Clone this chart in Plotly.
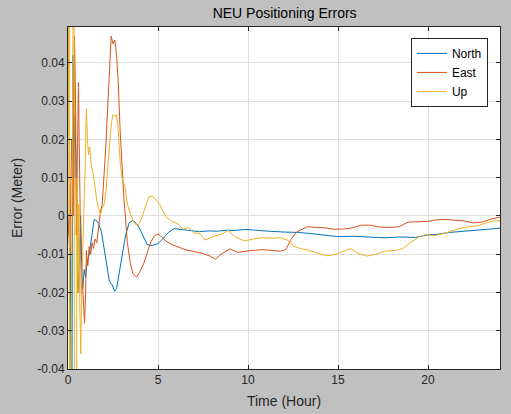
import plotly.graph_objects as go

# NEU positioning errors (time in hours, error in metres)
north_t = [0.0, 0.08, 0.14, 0.17, 0.22, 0.27, 0.32, 0.38, 0.44, 0.5, 0.56, 0.62, 0.7, 0.76, 0.82,
           0.9, 0.98, 1.06, 1.14, 1.24, 1.34, 1.45, 1.55, 1.7, 1.85, 2.0, 2.15, 2.3, 2.45, 2.6,
           2.7, 2.85, 3.0, 3.2, 3.4, 3.6, 3.8, 4.0, 4.2, 4.4, 4.7, 5.0, 5.3, 5.6, 5.9, 6.3, 6.8,
           7.3, 7.8, 8.3, 8.8, 9.3, 9.8, 10.5, 11.2, 12.0, 12.8, 13.5, 14.2, 15.0, 15.8, 16.6,
           17.6, 18.5, 19.3, 19.9, 20.5, 21.2, 22.0, 22.8, 23.5, 24.0]
north_v = [-0.005, 0.0, -0.013, -0.045, -0.045, 0.042, 0.01, 0.026, 0.016, -0.01, -0.02, -0.015,
           0.0, -0.012, -0.019, -0.014, -0.016, -0.012, -0.011, -0.008, -0.004, -0.001, -0.001,
           -0.002, -0.004, -0.008, -0.013, -0.017, -0.018, -0.0197, -0.019, -0.015, -0.010,
           -0.005, -0.0018, -0.0012, -0.002, -0.0035, -0.0055, -0.0075, -0.0077, -0.0072,
           -0.0058, -0.0042, -0.0033, -0.0035, -0.0038, -0.0041, -0.0039, -0.0040, -0.0037,
           -0.0038, -0.0035, -0.0038, -0.0040, -0.0042, -0.0043, -0.0046, -0.0050, -0.0054,
           -0.0053, -0.0055, -0.0057, -0.0055, -0.0056, -0.0050, -0.0048, -0.0043, -0.0040,
           -0.0036, -0.0033, -0.0032]

east_t = [0.0, 0.1, 0.2, 0.3, 0.36, 0.42, 0.46, 0.52, 0.58, 0.62, 0.68, 0.74, 0.8, 0.86, 0.92,
          0.98, 1.02, 1.1, 1.18, 1.26, 1.34, 1.42, 1.5, 1.6, 1.7, 1.8, 1.9, 2.0, 2.1, 2.2, 2.3,
          2.4, 2.5, 2.6, 2.7, 2.8, 2.9, 3.0, 3.1, 3.2, 3.3, 3.45, 3.6, 3.8, 4.0, 4.2, 4.4, 4.6,
          4.8, 5.0, 5.2, 5.5, 5.8, 6.1, 6.5, 7.0, 7.5, 7.9, 8.2, 8.5, 9.0, 9.4, 9.8, 10.3, 10.8,
          11.3, 11.8, 12.1, 12.4, 12.7, 13.0, 13.3, 13.8, 14.3, 14.8, 15.3, 15.8, 16.3, 16.8,
          17.3, 17.9, 18.4, 18.9, 19.4, 20.0, 20.5, 21.0, 21.5, 22.0, 22.5, 23.0, 23.5, 24.0]
east_v = [0.0, -0.01, 0.02, 0.0, 0.047, 0.03, -0.005, 0.01, 0.035, 0.02, -0.01, -0.02, -0.017,
          -0.024, -0.028, -0.02, -0.009, -0.013, -0.008, -0.010, -0.007, -0.0085, -0.006, -0.007,
          -0.003, 0.001, 0.003, 0.01, 0.018, 0.028, 0.038, 0.047, 0.045, 0.046, 0.042, 0.034,
          0.022, 0.012, 0.005, -0.001, -0.007, -0.012, -0.015, -0.016, -0.0145, -0.0125, -0.0095,
          -0.0068, -0.0052, -0.0047, -0.0055, -0.0068, -0.0075, -0.0080, -0.0088, -0.0093,
          -0.0098, -0.0105, -0.0113, -0.0100, -0.0086, -0.0095, -0.0092, -0.0090, -0.0088,
          -0.0090, -0.0092, -0.0088, -0.0060, -0.0042, -0.0035, -0.0028, -0.0030, -0.0031,
          -0.0035, -0.0034, -0.0031, -0.0024, -0.0024, -0.0029, -0.0030, -0.0028, -0.0016,
          -0.0015, -0.0014, -0.0010, -0.0009, -0.0011, -0.0013, -0.0018, -0.0016, -0.0008,
          -0.0003]

up_t = [0.0, 0.07, 0.09, 0.2, 0.33, 0.36, 0.45, 0.5, 0.55, 0.6, 0.66, 0.71, 0.76, 0.82, 0.88,
        0.95, 1.02, 1.08, 1.14, 1.2, 1.3, 1.4, 1.5, 1.6, 1.7, 1.8, 1.9, 2.0, 2.1, 2.2, 2.3, 2.4,
        2.5, 2.6, 2.7, 2.8, 2.9, 3.0, 3.15, 3.3, 3.5, 3.7, 3.9, 4.1, 4.3, 4.5, 4.7, 4.9, 5.1,
        5.3, 5.5, 5.8, 6.1, 6.4, 6.7, 7.0, 7.3, 7.6, 8.0, 8.5, 8.9, 9.3, 9.8, 10.3, 10.8, 11.3,
        11.8, 12.2, 12.5, 12.9, 13.4, 13.9, 14.4, 14.9, 15.4, 15.7, 16.1, 16.6, 17.1, 17.6,
        18.2, 18.6, 19.0, 19.5, 19.9, 20.3, 20.8, 21.3, 21.8, 22.3, 22.8, 23.3, 23.7, 24.0]
up_v = [0.0, 0.1, -0.1, -0.02, 0.1, -0.1, -0.1, 0.01, -0.02, 0.003, -0.025, -0.036, -0.02,
        -0.004, 0.001, 0.012, 0.028, 0.02, 0.016, 0.018, 0.013, 0.011, 0.007, 0.004, 0.002,
        0.0005, 0.002, 0.003, 0.006, 0.012, 0.018, 0.024, 0.0265, 0.026, 0.0265, 0.022, 0.014,
        0.010, 0.008, 0.003, 0.0, -0.002, -0.0025, -0.0005, 0.0025, 0.005, 0.0052, 0.004, 0.003,
        0.001, -0.0005, -0.0015, -0.002, -0.0035, -0.0030, -0.0045, -0.0045, -0.0063, -0.0055,
        -0.0048, -0.0038, -0.0055, -0.0065, -0.0060, -0.0057, -0.0058, -0.0057, -0.0063,
        -0.0078, -0.0085, -0.0090, -0.0098, -0.0104, -0.0100, -0.0090, -0.0085, -0.0097,
        -0.0105, -0.0100, -0.0092, -0.0090, -0.0085, -0.0070, -0.0055, -0.0048, -0.0052,
        -0.0047, -0.0040, -0.0032, -0.0028, -0.0025, -0.0017, -0.0013, -0.0013]

x_ticks = [0, 5, 10, 15, 20]
y_ticks = [-0.04, -0.03, -0.02, -0.01, 0, 0.01, 0.02, 0.03, 0.04]
y_labels = ["-0.04", "-0.03", "-0.02", "-0.01", "0", "0.01", "0.02", "0.03", "0.04"]

fig = go.Figure()
fig.add_trace(go.Scatter(x=north_t, y=north_v, mode="lines", name="North",
                         line=dict(color="#0072BD", width=1)))
fig.add_trace(go.Scatter(x=east_t, y=east_v, mode="lines", name="East",
                         line=dict(color="#D95319", width=1)))
fig.add_trace(go.Scatter(x=up_t, y=up_v, mode="lines", name="Up",
                         line=dict(color="#EDB120", width=1)))

axis_style = dict(showline=True, linecolor="#262626", linewidth=1, mirror="ticks",
                  ticks="inside", ticklen=4, tickcolor="#262626",
                  showgrid=True, gridcolor="#DFDFDF", gridwidth=1, zeroline=False,
                  automargin=False, tickfont=dict(size=12, color="#262626"))

fig.update_xaxes(range=[0, 24], tickvals=x_ticks,
                 title=dict(text="Time (Hour)", font=dict(size=14, color="#262626"), standoff=9),
                 **axis_style)
fig.update_yaxes(range=[-0.04, 0.0494], tickvals=y_ticks, ticktext=y_labels,
                 title=dict(text="Error (Meter)", font=dict(size=14, color="#262626"), standoff=11),
                 **axis_style)

fig.update_layout(
    width=511, height=414,
    margin=dict(l=68, r=11, t=27, b=45),
    paper_bgcolor="#C0C0C0", plot_bgcolor="white",
    font=dict(family="Liberation Sans, Arial, sans-serif", color="#262626"),
    title=dict(text="NEU Positioning Errors", x=0.557, xanchor="center", y=0.968, yanchor="middle",
               font=dict(size=14, color="#000000")),
    legend=dict(x=0.972, y=0.968, xanchor="right", yanchor="top", bgcolor="white",
                bordercolor="#262626", borderwidth=1, font=dict(size=12, color="#000000"),
                tracegroupgap=0),
    showlegend=True,
)

# drop the browser's default page margin so the figure sits at the top-left corner
fig.write_html("out.html", config={"displayModeBar": False},
               post_script="document.body.style.margin='0';")
